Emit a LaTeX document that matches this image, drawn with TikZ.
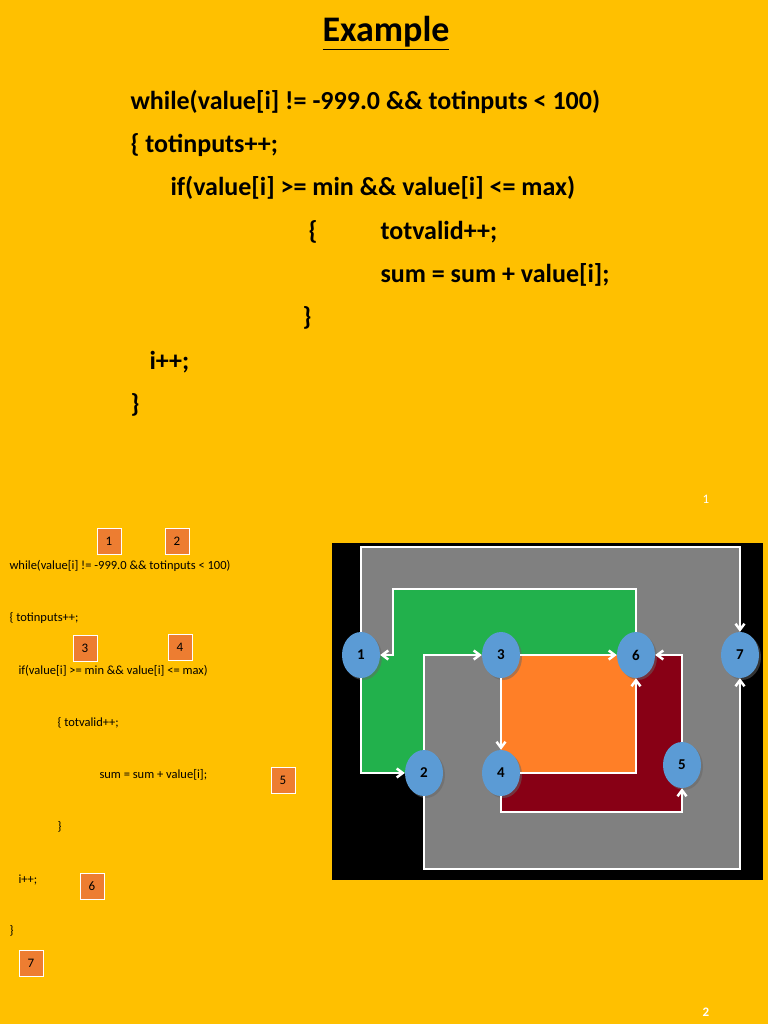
\documentclass[tikz,border=0pt]{standalone}
\usepackage{fontspec}
\setmainfont{Carlito}
\usetikzlibrary{arrows.meta,shadows}
\definecolor{bg}{HTML}{FFC000}
\definecolor{nb}{HTML}{5B9BD5}
\definecolor{ob}{HTML}{ED7D31}
\definecolor{gr}{HTML}{22B14C}
\definecolor{orf}{HTML}{FF7F27}
\definecolor{rd}{HTML}{880015}
\tikzset{
 cnode/.style={ellipse,fill=nb,minimum width=38pt,minimum height=46pt,inner sep=0pt,font=\bfseries\fontsize{15}{15}\selectfont,drop shadow={shadow xshift=2pt,shadow yshift=-2pt,fill=black!60}},
 wl/.style={white,line width=2.5pt},
 wa/.style={wl,-{Straight Barb[length=6pt,width=9pt]}},
 code/.style={anchor=west,font=\bfseries\fontsize{26}{26}\selectfont},
 small/.style={anchor=west,font=\fontsize{12.5}{12.5}\selectfont},
 tag/.style={fill=ob,draw=white,line width=0.8pt,minimum width=24pt,minimum height=26pt,inner sep=0pt,font=\fontsize{13}{13}\selectfont}
}
\usetikzlibrary{shapes.geometric}
\begin{document}
\begin{tikzpicture}[x=1pt,y=-1pt]
\fill[bg] (0,0) rectangle (768,1024);
\useasboundingbox (0,0) rectangle (768,1024);
\node[font=\bfseries\fontsize{36}{36}\selectfont] (title) at (386,33) {\underline{Example}};
\node[code] (c1) at (127,102) {while(value[i] != -999.0 \&\& totinputs < 100)};
\node[code] (c2) at (127,145) {\{ totinputs++;};
\node[code] (c3) at (167,188) {if(value[i] >= min \&\& value[i] <= max)};
\node[code] (c4) at (305,232) {\{};
\node[code] (c4b) at (377,232) {totvalid++;};
\node[code] (c5) at (377,275) {sum = sum + value[i];};
\node[code] (c6) at (299,318) {\}};
\node[code] (c7) at (146,362) {i++;};
\node[code] (c8) at (127,405) {\}};
\node[white,font=\fontsize{13}{13}\selectfont] (p1) at (706,499) {1};
\node[white,font=\bfseries\fontsize{13}{13}\selectfont] (p2) at (706,1012) {2};
% small code
\node[small] (s1) at (6,566) {while(value[i] != -999.0 \&\& totinputs < 100)};
\node[small] (s2) at (6,618) {\{ totinputs++;};
\node[small] (s3) at (15,671) {if(value[i] >= min \&\& value[i] <= max)};
\node[small] (s4) at (54,723) {\{ totvalid++;};
\node[small] (s5) at (96,775) {sum = sum + value[i];};
\node[small] (s6) at (54,827) {\}};
\node[small] (s7) at (15,880) {i++;};
\node[small] (s8) at (6,931) {\}};
\node[tag] (t1) at (109,541) {1};
\node[tag] (t2) at (177,541) {2};
\node[tag] (t3) at (85,648) {3};
\node[tag] (t4) at (180,647) {4};
\node[tag] (t5) at (283,780) {5};
\node[tag] (t6) at (92,886) {6};
\node[tag] (t7) at (31,963) {7};
% diagram
\fill[black] (332,543) rectangle (763,880);
\fill[gray] (361,547) -- (740,547) -- (740,869) -- (424,869) -- (424,773) -- (361,773) -- cycle;
\fill[gr] (393,589) -- (636,589) -- (636,655) -- (424,655) -- (424,773) -- (361,773) -- (361,655) -- (393,655) -- cycle;
\fill[orf] (501,655) rectangle (636,773);
\fill[rd] (636,655) -- (682,655) -- (682,812) -- (501,812) -- (501,773) -- (636,773) -- cycle;
\node[cnode] (n1) at (361,655) {1};
\node[cnode] (n3) at (501,655) {3};
\node[cnode] (n6) at (636,655) {6};
\node[cnode] (n7) at (740,655) {7};
\node[cnode] (n2) at (424,773) {2};
\node[cnode] (n4) at (501,773) {4};
\node[cnode] (n5) at (682,765) {5};
\coordinate (a1) at (361,547); \coordinate (a2) at (740,547);
\draw[wa] (n1.north) -- (a1) -- (a2) -- (n7.north);
\coordinate (b1) at (424,869); \coordinate (b2) at (740,869);
\draw[wa] (n2.south) -- (b1) -- (b2) -- (n7.south);
\coordinate (g1) at (636,589); \coordinate (g2) at (393,589); \coordinate (g3) at (393,655);
\draw[wa] (n6.north) -- (g1) -- (g2) -- (g3) -- (n1.east);
\coordinate (h1) at (361,773);
\draw[wa] (n1.south) -- (h1) -- (n2.west);
\coordinate (k1) at (424,655);
\draw[wa] (n2.north) -- (k1) -- (n3.west);
\draw[wa] (n3) -- (n6);
\draw[wa] (n3) -- (n4);
\coordinate (m1) at (636,773);
\draw[wa] (n4.east) -- (m1) -- (n6.south);
\coordinate (r1) at (501,812); \coordinate (r2) at (682,812);
\draw[wa] (n4.south) -- (r1) -- (r2) -- (n5.south);
\coordinate (q1) at (682,655);
\draw[wa] (n5.north) -- (q1) -- (n6.east);
\end{tikzpicture}
\end{document}
